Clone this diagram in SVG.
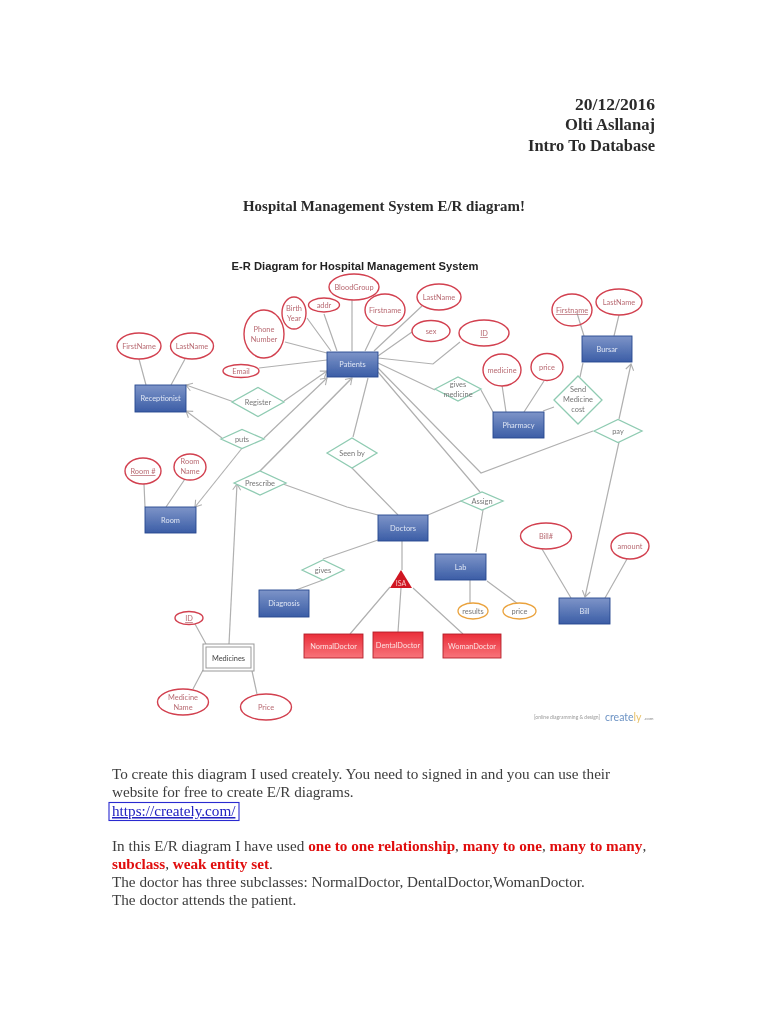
<svg xmlns="http://www.w3.org/2000/svg" width="768" height="1024" viewBox="0 0 768 1024">
<style>
.h{font-family:"Liberation Serif",serif;font-weight:bold;fill:#2c2c2c}
.b{font-family:"Liberation Serif",serif;font-size:15.2px;fill:#3c3c3c}
.r{font-weight:bold;fill:#e01010}
.t{font-family:Lato,sans-serif;font-size:7.4px;text-anchor:middle}
.ea{fill:#fff;stroke:#d2404f;stroke-width:1.4}
.eo{fill:#fff;stroke:#eaa23c;stroke-width:1.3}
.ta{fill:#b86a72}
.d{fill:#fff;stroke:#8fcbb2;stroke-width:1.3}
.td{fill:#777}
.eb{fill:url(#blue);stroke:#27488f;stroke-width:.9}
.er{fill:url(#red);stroke:#b3202c;stroke-width:.9}
.tw{fill:#dfe6f4}
.c{fill:none;stroke:#b0b0b0;stroke-width:1.2}
.ar{marker-end:url(#arrow)}
</style>
<defs>
<filter id="soft" x="0" y="0" width="768" height="1024" filterUnits="userSpaceOnUse"><feGaussianBlur stdDeviation="0.35"/></filter>
<linearGradient id="blue" x1="0" y1="0" x2="0" y2="1"><stop offset="0" stop-color="#7d94c8"/><stop offset="1" stop-color="#3b5da6"/></linearGradient>
<linearGradient id="red" x1="0" y1="0" x2="0" y2="1"><stop offset="0" stop-color="#ea2f3a"/><stop offset="1" stop-color="#f8737a"/></linearGradient>
<marker id="arrow" markerUnits="userSpaceOnUse" markerWidth="10" markerHeight="10" refX="7" refY="5" orient="auto"><path d="M1,1 L7,5 L1,9" fill="none" stroke="#b0b0b0" stroke-width="1.1"/></marker>
</defs>
<rect width="768" height="1024" fill="#fff"/>
<g filter="url(#soft)">

<g id="heading">
<text class="h" x="575" y="110" font-size="17.6" textLength="80" lengthAdjust="spacingAndGlyphs">20/12/2016</text>
<text class="h" x="565" y="130" font-size="17.6" textLength="90" lengthAdjust="spacingAndGlyphs">Olti Asllanaj</text>
<text class="h" x="528" y="151" font-size="17.6" textLength="127" lengthAdjust="spacingAndGlyphs">Intro To Database</text>
<text class="h" x="243" y="211" font-size="15" textLength="282" lengthAdjust="spacingAndGlyphs">Hospital Management System E/R diagram!</text>
<text x="355" y="270" font-family="Liberation Sans,sans-serif" font-weight="bold" font-size="11.2" fill="#222" text-anchor="middle">E-R Diagram for Hospital Management System</text>
</g>

<g id="connectors" class="c">
<path d="M285,342L327,353M307,318L331,351M324,314L337,351M352,300L352,351M377,326L365,351M422,306L374,351M412,332L378,356M460,342L433,364L378,358M259,368L327,360"/>
<path d="M139,359L146,385M185,359L171,385M144,484L145,507M185,479L166,507"/>
<path class="ar" d="M234,402L186,385"/><path class="ar" d="M284,401L327,371"/>
<path class="ar" d="M222,438L186,411"/><path class="ar" d="M264,438L327,378"/><path class="ar" d="M243,447L195,507"/>
<path class="ar" d="M260,471L352,378" style="stroke-width:1.5"/>
<path d="M283,484L347,507L378,515"/>
<path class="ar" d="M229,644L237,484"/>
<path d="M353,437L368,378M352,468L398,515"/>
<path d="M378,363L435,390M481,390L493,412"/>
<path d="M378,368L481,473L593,431"/>
<path class="ar" d="M619,419L631,364"/>
<path class="ar" d="M619,442L585,597"/>
<path d="M378,372L480,492M461,501L428,515M483,510L476,552"/>
<path d="M502,385L506,412M544,381L524,412M554,407L543,411M583,363L580,377M577,313L584,336M619,315L614,336"/>
<path d="M402,541L402,570M378,540L323,559M323,580L296,590M390,587L350,634M401,588L398,632M413,588L463,634"/>
<path d="M470,580L470,603M487,581L518,604M542,549L571,598M627,559L605,598"/>
<path d="M195,624L206,644M203,670L193,689M252,671L257,694"/>
</g>

<g id="Patients"><rect class="eb" x="327" y="352" width="51" height="25"/><text class="t tw" x="352.500" y="367">Patients</text></g>
<g id="Receptionist"><rect class="eb" x="135" y="385" width="51" height="27"/><text class="t tw" x="160.500" y="401">Receptionist</text></g>
<g id="Room"><rect class="eb" x="145" y="507" width="51" height="26"/><text class="t tw" x="170.500" y="523">Room</text></g>
<g id="Bursar"><rect class="eb" x="582" y="336" width="50" height="26"/><text class="t tw" x="607" y="352">Bursar</text></g>
<g id="Pharmacy"><rect class="eb" x="493" y="412" width="51" height="26"/><text class="t tw" x="518.500" y="428">Pharmacy</text></g>
<g id="Doctors"><rect class="eb" x="378" y="515" width="50" height="26"/><text class="t tw" x="403" y="531">Doctors</text></g>
<g id="Lab"><rect class="eb" x="435" y="554" width="51" height="26"/><text class="t tw" x="460.500" y="570">Lab</text></g>
<g id="Bill"><rect class="eb" x="559" y="598" width="51" height="26"/><text class="t tw" x="584.500" y="614">Bill</text></g>
<g id="Diagnosis"><rect class="eb" x="259" y="590" width="50" height="27"/><text class="t tw" x="284" y="606">Diagnosis</text></g>
<g id="Medicines"><rect x="203" y="644" width="51" height="27" fill="#fff" stroke="#999" stroke-width="1"/><rect x="206" y="647" width="45" height="21" fill="#fff" stroke="#999" stroke-width="1"/><text class="t" x="228.500" y="661" fill="#444">Medicines</text></g>
<g id="NormalDoctor"><rect class="er" x="304" y="634" width="59" height="24"/><text class="t" x="333.500" y="649" fill="#fde0e0">NormalDoctor</text></g>
<g id="DentalDoctor"><rect class="er" x="373" y="632" width="50" height="26"/><text class="t" x="398" y="648" fill="#fde0e0">DentalDoctor</text></g>
<g id="WomanDoctor"><rect class="er" x="443" y="634" width="58" height="24"/><text class="t" x="472" y="649" fill="#fde0e0">WomanDoctor</text></g>
<g id="ISA"><polygon points="401,570 390,588 412,588" fill="#d01420"/><text class="t" x="401" y="586" fill="#f6c8c8" style="font-size:7px">ISA</text></g>

<g id="attr-phone"><ellipse class="ea" cx="264" cy="334" rx="20" ry="24"/><text class="t ta" x="264" y="332">Phone</text><text class="t ta" x="264" y="342">Number</text></g>
<g id="attr-birth"><ellipse class="ea" cx="294" cy="313" rx="12" ry="16"/><text class="t ta" x="294" y="311">Birth</text><text class="t ta" x="294" y="321">Year</text></g>
<g id="attr-addr"><ellipse class="ea" cx="324" cy="305" rx="15.500" ry="7"/><text class="t ta" x="324" y="308">addr</text></g>
<g id="attr-blood"><ellipse class="ea" cx="354" cy="287" rx="25" ry="13"/><text class="t ta" x="354" y="290">BloodGroup</text></g>
<g id="attr-firstname"><ellipse class="ea" cx="385" cy="310" rx="20" ry="16"/><text class="t ta" x="385" y="313">Firstname</text></g>
<g id="attr-lastname"><ellipse class="ea" cx="439" cy="297" rx="22" ry="13"/><text class="t ta" x="439" y="300">LastName</text></g>
<g id="attr-sex"><ellipse class="ea" cx="431" cy="331" rx="19" ry="10.500"/><text class="t ta" x="431" y="334">sex</text></g>
<g id="attr-id"><ellipse class="ea" cx="484" cy="333" rx="25" ry="13"/><text class="t ta" x="484" y="336" text-decoration="underline">ID</text></g>
<g id="attr-email"><ellipse class="ea" cx="241" cy="371" rx="18" ry="6.500"/><text class="t ta" x="241" y="374">Email</text></g>
<g id="attr-medicine"><ellipse class="ea" cx="502" cy="370" rx="19" ry="16"/><text class="t ta" x="502" y="373">medicine</text></g>
<g id="attr-price"><ellipse class="ea" cx="547" cy="367" rx="16" ry="13.500"/><text class="t ta" x="547" y="370">price</text></g>
<g id="attr-bursar-first"><ellipse class="ea" cx="572" cy="310" rx="20" ry="16" style="fill:none"/><text class="t ta" x="572" y="313" text-decoration="underline">Firstname</text></g>
<g id="attr-bursar-last"><ellipse class="ea" cx="619" cy="302" rx="23" ry="13"/><text class="t ta" x="619" y="305">LastName</text></g>
<g id="attr-rec-first"><ellipse class="ea" cx="139" cy="346" rx="22" ry="13"/><text class="t ta" x="139" y="349">FirstName</text></g>
<g id="attr-rec-last"><ellipse class="ea" cx="192" cy="346" rx="21.500" ry="13"/><text class="t ta" x="192" y="349">LastName</text></g>
<g id="attr-roomno"><ellipse class="ea" cx="143" cy="471" rx="18" ry="13"/><text class="t ta" x="143" y="474" text-decoration="underline">Room #</text></g>
<g id="attr-roomname"><ellipse class="ea" cx="190" cy="467" rx="16" ry="13"/><text class="t ta" x="190" y="464">Room</text><text class="t ta" x="190" y="474">Name</text></g>
<g id="attr-billno"><ellipse class="ea" cx="546" cy="536" rx="25.500" ry="13"/><text class="t ta" x="546" y="539">Bill#</text></g>
<g id="attr-amount"><ellipse class="ea" cx="630" cy="546" rx="19" ry="13"/><text class="t ta" x="630" y="549">amount</text></g>
<g id="attr-results"><ellipse class="eo" cx="473" cy="611" rx="15" ry="8"/><text class="t td" x="473" y="614">results</text></g>
<g id="attr-lab-price"><ellipse class="eo" cx="519.500" cy="611" rx="16.500" ry="8"/><text class="t td" x="519.500" y="614">price</text></g>
<g id="attr-med-id"><ellipse class="ea" cx="189" cy="618" rx="14" ry="6.500"/><text class="t ta" x="189" y="621" text-decoration="underline">ID</text></g>
<g id="attr-med-name"><ellipse class="ea" cx="183" cy="702" rx="25.500" ry="13"/><text class="t ta" x="183" y="700">Medicine</text><text class="t ta" x="183" y="710">Name</text></g>
<g id="attr-med-price"><ellipse class="ea" cx="266" cy="707" rx="25.500" ry="13"/><text class="t ta" x="266" y="710">Price</text></g>

<g id="rel-register"><polygon class="d" points="232,402 258,387.500 284,402 258,416.500"/><text class="t td" x="258" y="405">Register</text></g>
<g id="rel-puts"><polygon class="d" points="221,439 242,429.500 264,439 242,448.500"/><text class="t td" x="242" y="442">puts</text></g>
<g id="rel-prescribe"><polygon class="d" points="234,483 260,471 286,483 260,495"/><text class="t td" x="260" y="486">Prescribe</text></g>
<g id="rel-seen"><polygon class="d" points="327,453 352,438 377,453 352,468"/><text class="t td" x="352" y="456">Seen by</text></g>
<g id="rel-gives-med"><polygon class="d" points="435,389 458,377 481,389 458,401"/><text class="t td" x="458" y="387">gives</text><text class="t td" x="458" y="397">medicine</text></g>
<g id="rel-send"><polygon class="d" points="554,400 578,376 602,400 578,424"/><text class="t td" x="578" y="392">Send</text><text class="t td" x="578" y="402">Medicine</text><text class="t td" x="578" y="412">cost</text></g>
<g id="rel-pay"><polygon class="d" points="594,431 618,419.500 642,431 618,442.500"/><text class="t td" x="618" y="434">pay</text></g>
<g id="rel-assign"><polygon class="d" points="461,501 482,492 503,501 482,510"/><text class="t td" x="482" y="504">Assign</text></g>
<g id="rel-gives"><polygon class="d" points="302,570 323,560 344,570 323,580"/><text class="t td" x="323" y="573">gives</text></g>

<g id="watermark">
<text x="534" y="719" font-family="Lato,sans-serif" font-size="5" fill="#999">[online diagramming &amp; design]</text>
<text x="605" y="721" font-family="Lato,sans-serif" font-size="10.500" fill="#6d93c4">create<tspan fill="#e9c26a">ly</tspan></text>
<text x="644" y="720" font-family="Lato,sans-serif" font-size="4.500" fill="#888">.com</text>
</g>

<g id="body">
<text class="b" x="112" y="779">To create this diagram I used creately. You need to signed in and you can use their</text>
<text class="b" x="112" y="797">website for free to create E/R diagrams.</text>
<rect x="109" y="802.500" width="130" height="18" fill="none" stroke="#2a2ad0" stroke-width="1.100"/>
<text class="b" x="112" y="816" style="fill:#2020c0" text-decoration="underline">https://creately.com/</text>
<text class="b" x="112" y="851">In this E/R diagram I have used <tspan class="r">one to one relationship</tspan>, <tspan class="r">many to one</tspan>, <tspan class="r">many to many</tspan>,</text>
<text class="b" x="112" y="869"><tspan class="r">subclass</tspan>, <tspan class="r">weak entity set</tspan>.</text>
<text class="b" x="112" y="887">The doctor has three subclasses: NormalDoctor, DentalDoctor,WomanDoctor.</text>
<text class="b" x="112" y="905">The doctor attends the patient.</text>
</g>
</g>
</svg>
